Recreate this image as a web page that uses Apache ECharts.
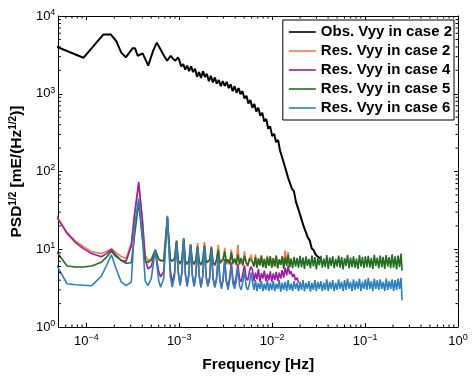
<!DOCTYPE html>
<html><head><meta charset="utf-8">
<script src="https://cdn.jsdelivr.net/npm/echarts@6.0.0/dist/echarts.min.js"></script>
<style>html,body{margin:0;padding:0;background:#fff}#c{width:474px;height:378px}</style>
</head><body><div id="c"></div>
<script>
// ---------- data ----------
const seriesNames = ['Obs. Vyy in case 2','Res. Vyy in case 2','Res. Vyy in case 4','Res. Vyy in case 5','Res. Vyy in case 6'];
const seriesColors = ['#000000','#F47A40','#A01CA8','#1F6E1F','#2D80C0'];

// Observed signal (black)
const freqObs = [4.6e-5,0.93e-4,1.52e-4,1.84e-4,2.1e-4,2.37e-4,2.66e-4,3.16e-4,3.34e-4,3.57e-4,4.04e-4,4.64e-4,5.2e-4,5.74e-4,6.3e-4,6.85e-4,7.4e-4,8.1e-4,8.6e-4,9.1e-4,9.7e-4,
 1.000e-3,1.050e-3,1.103e-3,1.158e-3,1.216e-3,1.277e-3,1.341e-3,1.409e-3,1.479e-3,1.554e-3,1.632e-3,1.714e-3,1.800e-3,1.890e-3,1.985e-3,2.085e-3,2.190e-3,2.300e-3,2.415e-3,2.536e-3,2.664e-3,2.797e-3,2.938e-3,3.085e-3,3.240e-3,3.403e-3,3.574e-3,3.753e-3,3.942e-3,4.140e-3,4.347e-3,4.566e-3,4.795e-3,5.036e-3,5.288e-3,5.554e-3,5.833e-3,6.126e-3,6.433e-3,6.756e-3,7.095e-3,7.452e-3,7.826e-3,8.219e-3,8.631e-3,9.065e-3,9.520e-3,9.998e-3,
 1.050e-2,1.103e-2,1.158e-2,1.216e-2,1.277e-2,1.341e-2,1.409e-2,1.479e-2,1.554e-2,1.632e-2,1.714e-2,1.800e-2,1.890e-2,1.985e-2,2.085e-2,2.190e-2,2.300e-2,2.415e-2,2.536e-2,2.664e-2,2.797e-2,2.938e-2,3.085e-2,3.240e-2,3.403e-2];
const obsCase2 = [4100,2900,5770,5770,4750,3400,2940,3850,3850,3080,3300,2300,3500,4540,3700,3080,2660,3080,2800,2660,2940,
 2700,2250,2400,2050,2300,1950,2250,1900,2100,1650,1900,1600,1950,1650,1800,1450,1700,1400,1620,1350,1500,1250,1450,1260,1420,1180,1320,1080,1250,1030,1180,990,1080,870,940,750,830,660,740,590,660,520,570,440,475,355,380,285,
 305,238,255,185,178,127,123,84,86,60,56,41,40,28.5,27.5,19.5,18.8,14.2,13,10.3,9.7,8.5,8.3,7.7,7.6];

// Residual frequency grid (shared by the residual series)
const freqResA = [0.46e-4,0.62e-4,0.76e-4,0.93e-4,1.14e-4,1.45e-4,1.63e-4,1.86e-4,2.05e-4,2.37e-4,2.68e-4,3.05e-4,3.30e-4,3.66e-4,4.0e-4,4.3e-4,4.6e-4,5.0e-4,5.52e-4,6.0e-4,6.3e-4,6.8e-4,7.45e-4,8.0e-4,8.4e-4,8.9e-4,9.35e-4];
const freqResB = [0.977e-3,1.0215e-3,1.068e-3,1.116e-3,1.165e-3,1.216e-3,1.270e-3,1.326e-3,1.384e-3,1.444e-3,1.507e-3,1.573e-3,1.642e-3,1.714e-3,1.789e-3,1.867e-3,1.949e-3,2.034e-3,2.124e-3,2.217e-3,2.314e-3,2.416e-3,2.522e-3,2.632e-3,2.739e-3,2.850e-3,2.966e-3,3.086e-3,3.215e-3,3.350e-3,3.490e-3,3.636e-3,3.786e-3,3.942e-3,4.105e-3,4.274e-3,4.453e-3,4.639e-3,4.834e-3,5.036e-3,5.247e-3,5.467e-3,5.696e-3,5.934e-3];
const freqResC = [6.138e-3,6.368e-3,6.607e-3,6.855e-3,7.112e-3,7.379e-3,7.655e-3,7.942e-3,8.240e-3,8.549e-3,8.870e-3,9.203e-3,9.548e-3,9.906e-3,
 1.028e-2,1.066e-2,1.106e-2,1.148e-2,1.191e-2,1.236e-2,1.282e-2,1.330e-2,1.380e-2,1.432e-2,1.485e-2,1.541e-2,1.599e-2,1.659e-2,1.721e-2,1.786e-2,1.853e-2,1.922e-2,1.994e-2,
 2.069e-2,2.147e-2,2.227e-2,2.311e-2,2.397e-2,2.487e-2,2.581e-2,2.677e-2,2.778e-2,2.882e-2,2.990e-2,3.102e-2,3.218e-2,3.339e-2,3.464e-2,3.594e-2,3.729e-2,3.869e-2,4.014e-2,4.164e-2,4.320e-2,4.482e-2,4.650e-2,4.825e-2,5.006e-2,5.193e-2,5.388e-2,5.590e-2,5.800e-2,6.017e-2,6.243e-2,6.477e-2,6.720e-2,6.972e-2,7.233e-2,7.505e-2,7.786e-2,8.078e-2,8.381e-2,8.695e-2,9.021e-2,9.360e-2,9.711e-2,
 0.1008,0.1045,0.1084,0.1125,0.1167,0.1211,0.1257,0.1304,0.1353,0.1403,0.1456,0.1511,0.1567,0.1626,0.1687,0.1750,0.1816,0.1884,0.1955,0.2028,0.2104,0.2183,0.2265,0.2350,0.2438,0.2500];

const resCase2 = [29,16.5,12.8,10.8,9.3,8.8,9.3,10.2,9.2,8.1,7.6,12,27,68,24,8.5,7.2,7.5,9.9,7.6,7.0,7.3,26,7.5,7.0,7.4,13,
 7.0,6.4,7.1,13.8, 6.8,6.3,7.0,11.6, 6.8,6.3,7.1,12.0, 6.7,6.2,7.0,12.5, 6.6,6.3,7.1,11.0, 6.6,6.1,7.2,11.4, 6.5,6.2,7.3,10.4, 6.4,7.2,6.3,9.9, 6.4,7.4,6.2,11.4, 6.3,7.5,6.1,9.4, 6.6,6.0,7.4,8.5,
 6.9,6.0,8.6,5.8,7.6,6.2,8.4,5.9,7.5,5.7,8.3,6.1,8.1,5.8,
 7.7,6.0,8.3,5.7,7.4,6.3,8.1,6.6,9.6,6.8,9.2,5.9,7.6];
const resCase4 = [28,16,12.3,10.2,8.8,8.0,8.7,9.9,8.6,7.2,7.0,11,28,73,25,7.5,5.6,6.0,9.6,5.2,4.4,5.2,26,5.5,3.7,5.0,12.5,
 5.0,3.5,5.0,13.5, 4.8,3.4,4.8,11.4, 4.6,3.4,4.6,10.8, 4.5,3.3,4.5,11.0, 4.4,3.4,4.3,10.0, 4.2,3.3,4.2,8.5, 4.0,3.3,4.2,7.5, 3.9,3.3,4.3,6.8, 4.0,3.5,4.5,6.5, 4.2,3.8,4.9,6.2, 4.3,4.0,5.2,6.0,
 5.4,3.9,5.0,4.1,5.6,3.8,4.9,4.2,5.3,3.9,4.8,4.0,5.2,3.8,4.9,4.0,5.1,3.9,5.0,4.2,5.4,4.3,5.8,4.6,6.1,4.8,5.2,4.4,4.8,4.0,4.3,3.7];
const resCase5 = [10,6.1,5.9,5.9,6.1,6.8,7.8,9.5,8.2,7.2,6.6,6.7,15,40,14,7.0,6.8,7.2,9.8,7.4,7.0,7.0,25,7.5,7.0,7.6,12.8,
 7.2,6.6,7.3,13.8, 7.0,6.5,7.2,11.4, 7.0,6.5,7.3,10.8, 6.9,6.4,7.2,11.2, 6.8,6.5,7.3,10.6, 6.8,6.3,7.4,9.8, 6.7,6.4,7.5,9.4, 6.6,7.4,6.5,9.2, 6.6,7.6,6.4,8.5, 6.5,7.7,6.3,8.2, 6.8,6.2,7.6,8.0,
 6.9,6.0,8.0,5.8,7.6,6.2,8.2,5.9,7.5,5.7,7.9,6.1,8.1,5.8,
 7.7,6.0,8.3,5.7,7.4,6.3,8.1,5.6,7.8,6.1,8.4,5.9,7.6,5.7,8.0,6.0,7.7,5.8,8.2,
 5.9,7.8,5.6,8.1,6.1,7.5,5.7,8.3,6.0,7.9,5.5,7.7,6.2,8.2,5.8,7.6,5.9,8.4,5.6,7.8,6.1,8.1,5.7,7.5,6.0,8.3,5.8,7.9,5.5,7.7,6.1,8.5,5.7,7.8,5.9,8.1,5.8,7.6,5.6,8.4,6.0,7.9,5.7,
 8.1,5.9,8.2,5.8,7.7,5.6,8.5,6.1,7.8,5.7,8.3,5.9,8.0,5.6,8.4,6.0,7.9,5.7,8.6,5.8,8.1,5.5,8.3,5.9,8.8,5.3];
const resCase6 = [6.8,3.6,3.5,3.45,3.4,4.5,6.0,8.5,6.0,3.8,3.4,3.8,20,45,16,3.9,3.4,4.2,9.8,4.0,3.25,4.2,27,4.5,3.25,4.5,12,
 5.0,3.4,5.0,13.5, 4.8,3.3,4.8,11.4, 4.6,3.3,4.6,10.8, 4.5,3.2,4.5,11.0, 4.4,3.3,4.3,10.0, 4.2,3.2,4.2,8.0, 4.0,3.1,4.0,7.0, 3.8,3.0,4.0,6.2, 3.6,3.1,3.9,5.8, 3.4,3.0,3.8,5.3, 3.3,3.0,3.6,5.0,
 3.8,3.0,4.0,2.9,3.7,3.1,3.9,2.9,3.6,3.0,4.0,2.9,3.7,3.0,
 3.9,2.9,3.6,3.1,4.0,2.85,3.7,3.0,3.8,2.9,4.0,3.0,3.6,2.9,3.9,3.1,3.7,2.9,3.8,
 3.0,4.0,2.9,3.7,3.1,3.9,2.85,3.7,3.0,4.0,2.9,3.8,3.1,3.9,2.9,3.7,3.0,4.1,2.9,3.8,3.1,4.0,2.9,3.7,3.0,4.1,3.1,3.8,2.9,4.0,3.0,4.2,3.1,3.8,2.9,4.1,3.0,3.9,3.1,4.2,2.9,3.8,3.1,
 4.1,3.0,4.3,3.1,3.9,2.9,4.2,3.1,4.0,3.0,4.1,3.1,3.8,2.9,4.2,3.0,3.9,3.1,4.1,2.9,4.0,3.0,4.2,3.1,4.3,2.2];

const xMin = 5e-5, xMax = 1, yMin = 1, yMax = 1e4;

// ---------- chart ----------
const FONT = '"Liberation Sans", Arial, Helvetica, sans-serif';
const freqRes = freqResA.concat(freqResB, freqResC);
function pairs(fr, vals){ const n = Math.min(fr.length, vals.length); const out=[]; for(let i=0;i<n;i++) out.push([fr[i], vals[i]]); return out; }

function powLabel(v){
  const e = Math.log10(v); const r = Math.round(e);
  if (Math.abs(e - r) > 1e-6) return '';
  const s = r < 0 ? '\u2212' + Math.abs(r) : String(r);
  return '{b|10}{s|' + s + '}';
}
const labelRich = {
  b: {fontFamily: FONT, fontSize: 13, color: '#000'},
  s: {fontFamily: FONT, fontSize: 9, color: '#000', padding: [0,0,7,0]}
};

// minor tick positions (2..9 per decade)
const xMinor = [], yMinor = [];
for (let d = -5; d <= -1; d++) for (let m = 2; m <= 9; m++) { const v = m * Math.pow(10, d); if (v > xMin * 1.0001 && v < xMax) xMinor.push([v, yMin]); }
for (let d = 0; d <= 3; d++) for (let m = 2; m <= 9; m++) { yMinor.push([xMin, m * Math.pow(10, d)]); }
const MINOR = 2.5;

const lineData = [
  pairs(freqObs, obsCase2),
  pairs(freqRes, resCase2),
  pairs(freqRes, resCase4),
  pairs(freqRes, resCase5),
  pairs(freqRes, resCase6)
];
const widths = [2, 1.6, 1.6, 1.6, 1.6];

const series = lineData.map((d, i) => ({
  name: seriesNames[i], type: 'line', data: d, symbol: 'none', showSymbol: false,
  lineStyle: {color: seriesColors[i], width: widths[i]}, itemStyle: {color: seriesColors[i]},
  clip: true, animation: false, z: 2 + i
}));
series.push({
  type: 'custom', silent: true, data: xMinor, z: 10, clip: false,
  renderItem: function(p, api){
    const b = api.coord([api.value(0), yMin]); const t = api.coord([api.value(0), yMax]);
    return {type:'group', children:[
      {type:'line', shape:{x1:b[0],y1:b[1],x2:b[0],y2:b[1]-MINOR}, style:{stroke:'#000',lineWidth:1}},
      {type:'line', shape:{x1:t[0],y1:t[1],x2:t[0],y2:t[1]+MINOR}, style:{stroke:'#000',lineWidth:1}}
    ]};
  }
});
series.push({
  type: 'custom', silent: true, data: yMinor, z: 10, clip: false,
  renderItem: function(p, api){
    const l = api.coord([xMin, api.value(1)]); const r = api.coord([xMax, api.value(1)]);
    return {type:'group', children:[
      {type:'line', shape:{x1:l[0],y1:l[1],x2:l[0]+MINOR,y2:l[1]}, style:{stroke:'#000',lineWidth:1}},
      {type:'line', shape:{x1:r[0],y1:r[1],x2:r[0]-MINOR,y2:r[1]}, style:{stroke:'#000',lineWidth:1}}
    ]};
  }
});

const axisCommon = {
  type: 'log', logBase: 10,
  axisLine: {show: true, lineStyle: {color: '#000', width: 1}},
  axisTick: {show: true, inside: true, length: 4, lineStyle: {color: '#000'}},
  splitLine: {show: false}, minorTick: {show: false}, minorSplitLine: {show: false}
};

const option = {
  animation: false,
  backgroundColor: '#fff',
  grid: {left: 54, right: 16, top: 16, bottom: 44, containLabel: false},
  xAxis: [
    Object.assign({}, axisCommon, {
      position: 'bottom', min: xMin, max: xMax,
      axisLabel: {show: true, margin: 6, formatter: powLabel, rich: labelRich, showMinLabel: true, showMaxLabel: true, hideOverlap: false},
      name: 'Frequency [Hz]', nameLocation: 'middle', nameGap: 30,
      nameTextStyle: {fontFamily: FONT, fontWeight: 'bold', fontSize: 15.5, color: '#000'}
    }),
    Object.assign({}, axisCommon, {position: 'top', min: xMin, max: xMax, axisLabel: {show: false}})
  ],
  yAxis: [
    Object.assign({}, axisCommon, {
      position: 'left', min: yMin, max: yMax,
      axisLabel: {show: true, margin: 3, formatter: powLabel, rich: labelRich},
      name: 'PSD{s|1/2} [mE/(Hz{s|1/2})]', nameLocation: 'middle', nameGap: 21, nameRotate: 90,
      nameTextStyle: {fontFamily: FONT, fontWeight: 'bold', fontSize: 15.5, color: '#000',
        rich: {s: {fontFamily: FONT, fontWeight: 'bold', fontSize: 10, color: '#000', padding: [0,0,8,0]}}}
    }),
    Object.assign({}, axisCommon, {position: 'right', min: yMin, max: yMax, axisLabel: {show: false}})
  ],
  legend: {
    data: seriesNames.map(n => ({name: n, icon: 'rect'})), orient: 'vertical', right: 20, top: 20,
    itemWidth: 27, itemHeight: 1.6, itemGap: 3,
    backgroundColor: '#fff', borderColor: '#000', borderWidth: 1, borderRadius: 0,
    padding: [4, 2, 4, 6],
    textStyle: {fontFamily: FONT, fontWeight: 'bold', fontSize: 15, color: '#000', lineHeight: 16}
  },
  series: series
};

const chart = echarts.init(document.getElementById('c'), null, {renderer: 'canvas'});
chart.setOption(option);
</script></body></html>
